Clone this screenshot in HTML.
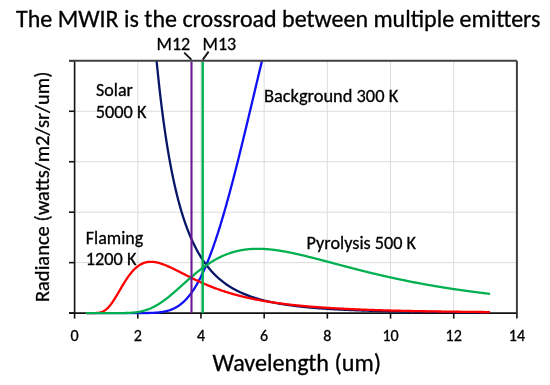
<!DOCTYPE html>
<html><head><meta charset="utf-8"><style>
html,body{margin:0;padding:0;background:#fff;}
svg{display:block;font-family:"Carlito", "Liberation Sans", sans-serif;}
</style></head><body>
<svg width="550" height="385" viewBox="0 0 550 385">
<rect width="550" height="385" fill="#fff"/>
<defs><clipPath id="pa"><rect x="74.6" y="60.8" width="442.30" height="253.90"/></clipPath></defs>
<g stroke="#dcdcdc" stroke-width="1"><line x1="137.79" y1="60.8" x2="137.79" y2="313.1"/><line x1="200.97" y1="60.8" x2="200.97" y2="313.1"/><line x1="264.16" y1="60.8" x2="264.16" y2="313.1"/><line x1="327.34" y1="60.8" x2="327.34" y2="313.1"/><line x1="390.53" y1="60.8" x2="390.53" y2="313.1"/><line x1="453.71" y1="60.8" x2="453.71" y2="313.1"/><line x1="74.6" y1="262.64" x2="516.9" y2="262.64"/><line x1="74.6" y1="212.18" x2="516.9" y2="212.18"/><line x1="74.6" y1="161.72" x2="516.9" y2="161.72"/><line x1="74.6" y1="111.26" x2="516.9" y2="111.26"/></g>
<g stroke="#111" stroke-width="1.6">
<line x1="74.6" y1="60.8" x2="74.6" y2="313.1"/>
<line x1="69" y1="313.1" x2="516.9" y2="313.1"/>
<line x1="69" y1="313.10" x2="74.6" y2="313.10"/><line x1="69" y1="262.64" x2="74.6" y2="262.64"/><line x1="69" y1="212.18" x2="74.6" y2="212.18"/><line x1="69" y1="161.72" x2="74.6" y2="161.72"/><line x1="69" y1="111.26" x2="74.6" y2="111.26"/><line x1="69" y1="60.80" x2="74.6" y2="60.80"/><line x1="74.60" y1="313.1" x2="74.60" y2="318.6"/><line x1="137.79" y1="313.1" x2="137.79" y2="318.6"/><line x1="200.97" y1="313.1" x2="200.97" y2="318.6"/><line x1="264.16" y1="313.1" x2="264.16" y2="318.6"/><line x1="327.34" y1="313.1" x2="327.34" y2="318.6"/><line x1="390.53" y1="313.1" x2="390.53" y2="318.6"/><line x1="453.71" y1="313.1" x2="453.71" y2="318.6"/><line x1="516.90" y1="313.1" x2="516.90" y2="318.6"/>
</g>
<g fill="none" stroke-width="2.3" stroke-linejoin="round" stroke-linecap="round" clip-path="url(#pa)">
<path d="M86.61,313.10 L87.24,313.10 L87.87,313.10 L88.50,313.10 L89.13,313.10 L89.76,313.10 L90.40,313.10 L91.03,313.10 L91.66,313.10 L92.29,313.10 L92.92,313.10 L93.56,313.10 L94.19,313.10 L94.82,313.10 L95.45,313.10 L96.08,313.10 L96.72,313.10 L97.35,313.10 L97.98,313.10 L98.61,313.10 L99.24,313.10 L99.87,313.10 L100.51,313.10 L101.14,313.10 L101.77,313.10 L102.40,313.10 L103.03,313.10 L103.67,313.10 L104.30,313.10 L104.93,313.10 L105.56,313.10 L106.19,313.10 L106.82,313.10 L107.46,313.10 L108.09,313.10 L108.72,313.10 L109.35,313.10 L109.98,313.10 L110.62,313.10 L111.25,313.10 L111.88,313.10 L112.51,313.10 L113.14,313.10 L113.78,313.10 L114.41,313.10 L115.04,313.10 L115.67,313.10 L116.30,313.10 L116.93,313.10 L117.57,313.10 L118.20,313.10 L118.83,313.10 L119.46,313.10 L120.09,313.10 L120.73,313.10 L121.36,313.10 L121.99,313.10 L122.62,313.10 L123.25,313.10 L123.88,313.10 L124.52,313.10 L125.15,313.10 L125.78,313.10 L126.41,313.10 L127.04,313.10 L127.68,313.10 L128.31,313.10 L128.94,313.10 L129.57,313.10 L130.20,313.10 L130.84,313.10 L131.47,313.10 L132.10,313.10 L132.73,313.10 L133.36,313.10 L133.99,313.10 L134.63,313.10 L135.26,313.10 L135.89,313.10 L136.52,313.10 L137.15,313.09 L137.79,313.09 L138.42,313.09 L139.05,313.09 L139.68,313.09 L140.31,313.09 L140.95,313.08 L141.58,313.08 L142.21,313.08 L142.84,313.07 L143.47,313.07 L144.10,313.06 L144.74,313.05 L145.37,313.05 L146.00,313.04 L146.63,313.03 L147.26,313.02 L147.90,313.01 L148.53,312.99 L149.16,312.98 L149.79,312.96 L150.42,312.94 L151.05,312.92 L151.69,312.90 L152.32,312.87 L152.95,312.84 L153.58,312.81 L154.21,312.78 L154.85,312.74 L155.48,312.70 L156.11,312.66 L156.74,312.61 L157.37,312.55 L158.01,312.50 L158.64,312.43 L159.27,312.36 L159.90,312.29 L160.53,312.21 L161.16,312.13 L161.80,312.03 L162.43,311.93 L163.06,311.83 L163.69,311.71 L164.32,311.59 L164.96,311.46 L165.59,311.32 L166.22,311.17 L166.85,311.02 L167.48,310.85 L168.11,310.67 L168.75,310.48 L169.38,310.28 L170.01,310.07 L170.64,309.84 L171.27,309.60 L171.91,309.35 L172.54,309.09 L173.17,308.81 L173.80,308.52 L174.43,308.21 L175.07,307.89 L175.70,307.55 L176.33,307.19 L176.96,306.82 L177.59,306.43 L178.22,306.03 L178.86,305.60 L179.49,305.16 L180.12,304.70 L180.75,304.22 L181.38,303.72 L182.02,303.20 L182.65,302.66 L183.28,302.10 L183.91,301.52 L184.54,300.91 L185.18,300.29 L185.81,299.64 L186.44,298.97 L187.07,298.27 L187.70,297.55 L188.33,296.81 L188.97,296.05 L189.60,295.26 L190.23,294.45 L190.86,293.61 L191.49,292.74 L192.13,291.85 L192.76,290.94 L193.39,290.00 L194.02,289.03 L194.65,288.04 L195.28,287.02 L195.92,285.98 L196.55,284.91 L197.18,283.81 L197.81,282.69 L198.44,281.53 L199.08,280.36 L199.71,279.15 L200.34,277.92 L200.97,276.66 L201.60,275.37 L202.24,274.05 L202.87,272.71 L203.50,271.34 L204.13,269.95 L204.76,268.52 L205.39,267.07 L206.03,265.60 L206.66,264.09 L207.29,262.56 L207.92,261.00 L208.55,259.42 L209.19,257.81 L209.82,256.17 L210.45,254.50 L211.08,252.81 L211.71,251.10 L212.34,249.36 L212.98,247.59 L213.61,245.80 L214.24,243.98 L214.87,242.14 L215.50,240.27 L216.14,238.38 L216.77,236.46 L217.40,234.52 L218.03,232.56 L218.66,230.58 L219.30,228.57 L219.93,226.54 L220.56,224.48 L221.19,222.41 L221.82,220.31 L222.45,218.19 L223.09,216.05 L223.72,213.89 L224.35,211.71 L224.98,209.51 L225.61,207.30 L226.25,205.06 L226.88,202.80 L227.51,200.53 L228.14,198.23 L228.77,195.92 L229.41,193.60 L230.04,191.25 L230.67,188.89 L231.30,186.52 L231.93,184.12 L232.56,181.72 L233.20,179.30 L233.83,176.86 L234.46,174.41 L235.09,171.95 L235.72,169.48 L236.36,166.99 L236.99,164.49 L237.62,161.98 L238.25,159.46 L238.88,156.93 L239.51,154.39 L240.15,151.83 L240.78,149.27 L241.41,146.70 L242.04,144.12 L242.67,141.54 L243.31,138.94 L243.94,136.34 L244.57,133.74 L245.20,131.12 L245.83,128.50 L246.47,125.88 L247.10,123.25 L247.73,120.61 L248.36,117.97 L248.99,115.33 L249.62,112.69 L250.26,110.04 L250.89,107.39 L251.52,104.73 L252.15,102.08 L252.78,99.42 L253.42,96.77 L254.05,94.11 L254.68,91.45 L255.31,88.80 L255.94,86.14 L256.57,83.49 L257.21,80.83 L257.84,78.18 L258.47,75.54 L259.10,72.89 L259.73,70.25 L260.37,67.61 L261.00,64.97 L261.63,62.34 L262.26,59.71 L262.89,57.09 L263.53,54.47 L264.16,51.86 L264.79,49.26 L265.42,46.66 L266.05,44.06 L266.68,41.48 L267.32,40.80 L267.95,40.80 L268.58,40.80 L269.21,40.80 L269.84,40.80 L270.48,40.80 L271.11,40.80 L271.74,40.80 L272.37,40.80 L273.00,40.80 L273.64,40.80 L274.27,40.80 L274.90,40.80 L275.53,40.80 L276.16,40.80 L276.79,40.80 L277.43,40.80 L278.06,40.80 L278.69,40.80 L279.32,40.80 L279.95,40.80 L280.59,40.80 L281.22,40.80 L281.85,40.80 L282.48,40.80 L283.11,40.80 L283.74,40.80 L284.38,40.80 L285.01,40.80 L285.64,40.80 L286.27,40.80 L286.90,40.80 L287.54,40.80 L288.17,40.80 L288.80,40.80 L289.43,40.80 L290.06,40.80 L290.70,40.80 L291.33,40.80 L291.96,40.80 L292.59,40.80 L293.22,40.80 L293.85,40.80 L294.49,40.80 L295.12,40.80 L295.75,40.80 L296.38,40.80 L297.01,40.80 L297.65,40.80 L298.28,40.80 L298.91,40.80 L299.54,40.80 L300.17,40.80 L300.80,40.80 L301.44,40.80 L302.07,40.80 L302.70,40.80 L303.33,40.80 L303.96,40.80 L304.60,40.80 L305.23,40.80 L305.86,40.80 L306.49,40.80 L307.12,40.80 L307.76,40.80 L308.39,40.80 L309.02,40.80 L309.65,40.80 L310.28,40.80 L310.91,40.80 L311.55,40.80 L312.18,40.80 L312.81,40.80 L313.44,40.80 L314.07,40.80 L314.71,40.80 L315.34,40.80 L315.97,40.80 L316.60,40.80 L317.23,40.80 L317.87,40.80 L318.50,40.80 L319.13,40.80 L319.76,40.80 L320.39,40.80 L321.02,40.80 L321.66,40.80 L322.29,40.80 L322.92,40.80 L323.55,40.80 L324.18,40.80 L324.82,40.80 L325.45,40.80 L326.08,40.80 L326.71,40.80 L327.34,40.80 L327.97,40.80 L328.61,40.80 L329.24,40.80 L329.87,40.80 L330.50,40.80 L331.13,40.80 L331.77,40.80 L332.40,40.80 L333.03,40.80 L333.66,40.80 L334.29,40.80 L334.93,40.80 L335.56,40.80 L336.19,40.80 L336.82,40.80 L337.45,40.80 L338.08,40.80 L338.72,40.80 L339.35,40.80 L339.98,40.80 L340.61,40.80 L341.24,40.80 L341.88,40.80 L342.51,40.80 L343.14,40.80 L343.77,40.80 L344.40,40.80 L345.03,40.80 L345.67,40.80 L346.30,40.80 L346.93,40.80 L347.56,40.80 L348.19,40.80 L348.83,40.80 L349.46,40.80 L350.09,40.80 L350.72,40.80 L351.35,40.80 L351.99,40.80 L352.62,40.80 L353.25,40.80 L353.88,40.80 L354.51,40.80 L355.14,40.80 L355.78,40.80 L356.41,40.80 L357.04,40.80 L357.67,40.80 L358.30,40.80 L358.94,40.80 L359.57,40.80 L360.20,40.80 L360.83,40.80 L361.46,40.80 L362.10,40.80 L362.73,40.80 L363.36,40.80 L363.99,40.80 L364.62,40.80 L365.25,40.80 L365.89,40.80 L366.52,40.80 L367.15,40.80 L367.78,40.80 L368.41,40.80 L369.05,40.80 L369.68,40.80 L370.31,40.80 L370.94,40.80 L371.57,40.80 L372.20,40.80 L372.84,40.80 L373.47,40.80 L374.10,40.80 L374.73,40.80 L375.36,40.80 L376.00,40.80 L376.63,40.80 L377.26,40.80 L377.89,40.80 L378.52,40.80 L379.16,40.80 L379.79,40.80 L380.42,40.80 L381.05,40.80 L381.68,40.80 L382.31,40.80 L382.95,40.80 L383.58,40.80 L384.21,40.80 L384.84,40.80 L385.47,40.80 L386.11,40.80 L386.74,40.80 L387.37,40.80 L388.00,40.80 L388.63,40.80 L389.26,40.80 L389.90,40.80 L390.53,40.80 L391.16,40.80 L391.79,40.80 L392.42,40.80 L393.06,40.80 L393.69,40.80 L394.32,40.80 L394.95,40.80 L395.58,40.80 L396.22,40.80 L396.85,40.80 L397.48,40.80 L398.11,40.80 L398.74,40.80 L399.37,40.80 L400.01,40.80 L400.64,40.80 L401.27,40.80 L401.90,40.80 L402.53,40.80 L403.17,40.80 L403.80,40.80 L404.43,40.80 L405.06,40.80 L405.69,40.80 L406.33,40.80 L406.96,40.80 L407.59,40.80 L408.22,40.80 L408.85,40.80 L409.48,40.80 L410.12,40.80 L410.75,40.80 L411.38,40.80 L412.01,40.80 L412.64,40.80 L413.28,40.80 L413.91,40.80 L414.54,40.80 L415.17,40.80 L415.80,40.80 L416.43,40.80 L417.07,40.80 L417.70,40.80 L418.33,40.80 L418.96,40.80 L419.59,40.80 L420.23,40.80 L420.86,40.80 L421.49,40.80 L422.12,40.80 L422.75,40.80 L423.39,40.80 L424.02,40.80 L424.65,40.80 L425.28,40.80 L425.91,40.80 L426.54,40.80 L427.18,40.80 L427.81,40.80 L428.44,40.80 L429.07,40.80 L429.70,40.80 L430.34,40.80 L430.97,40.80 L431.60,40.80 L432.23,40.80 L432.86,40.80 L433.49,40.80 L434.13,40.80 L434.76,40.80 L435.39,40.80 L436.02,40.80 L436.65,40.80 L437.29,40.80 L437.92,40.80 L438.55,40.80 L439.18,40.80 L439.81,40.80 L440.45,40.80 L441.08,40.80 L441.71,40.80 L442.34,40.80 L442.97,40.80 L443.60,40.80 L444.24,40.80 L444.87,40.80 L445.50,40.80 L446.13,40.80 L446.76,40.80 L447.40,40.80 L448.03,40.80 L448.66,40.80 L449.29,40.80 L449.92,40.80 L450.56,40.80 L451.19,40.80 L451.82,40.80 L452.45,40.80 L453.08,40.80 L453.71,40.80 L454.35,40.80 L454.98,40.80 L455.61,40.80 L456.24,40.80 L456.87,40.80 L457.51,40.80 L458.14,40.80 L458.77,40.80 L459.40,40.80 L460.03,40.80 L460.66,40.80 L461.30,40.80 L461.93,40.80 L462.56,40.80 L463.19,40.80 L463.82,40.80 L464.46,40.80 L465.09,40.80 L465.72,40.80 L466.35,40.80 L466.98,40.80 L467.62,40.80 L468.25,40.80 L468.88,40.80 L469.51,40.80 L470.14,40.80 L470.77,40.80 L471.41,40.80 L472.04,40.80 L472.67,40.80 L473.30,40.80 L473.93,40.80 L474.57,40.80 L475.20,40.80 L475.83,40.80 L476.46,40.80 L477.09,40.80 L477.72,40.80 L478.36,40.80 L478.99,40.80 L479.62,40.80 L480.25,40.80 L480.88,40.80 L481.52,40.80 L482.15,40.80 L482.78,40.80 L483.41,40.80 L484.04,40.80 L484.68,40.80 L485.31,40.80 L485.94,40.80 L486.57,40.80 L487.20,40.80 L487.83,40.80 L488.47,40.80 L489.10,40.80" stroke="#1010f4"/>
<path d="M86.61,40.80 L87.24,40.80 L87.87,40.80 L88.50,40.80 L89.13,40.80 L89.76,40.80 L90.40,40.80 L91.03,40.80 L91.66,40.80 L92.29,40.80 L92.92,40.80 L93.56,40.80 L94.19,40.80 L94.82,40.80 L95.45,40.80 L96.08,40.80 L96.72,40.80 L97.35,40.80 L97.98,40.80 L98.61,40.80 L99.24,40.80 L99.87,40.80 L100.51,40.80 L101.14,40.80 L101.77,40.80 L102.40,40.80 L103.03,40.80 L103.67,40.80 L104.30,40.80 L104.93,40.80 L105.56,40.80 L106.19,40.80 L106.82,40.80 L107.46,40.80 L108.09,40.80 L108.72,40.80 L109.35,40.80 L109.98,40.80 L110.62,40.80 L111.25,40.80 L111.88,40.80 L112.51,40.80 L113.14,40.80 L113.78,40.80 L114.41,40.80 L115.04,40.80 L115.67,40.80 L116.30,40.80 L116.93,40.80 L117.57,40.80 L118.20,40.80 L118.83,40.80 L119.46,40.80 L120.09,40.80 L120.73,40.80 L121.36,40.80 L121.99,40.80 L122.62,40.80 L123.25,40.80 L123.88,40.80 L124.52,40.80 L125.15,40.80 L125.78,40.80 L126.41,40.80 L127.04,40.80 L127.68,40.80 L128.31,40.80 L128.94,40.80 L129.57,40.80 L130.20,40.80 L130.84,40.80 L131.47,40.80 L132.10,40.80 L132.73,40.80 L133.36,40.80 L133.99,40.80 L134.63,40.80 L135.26,40.80 L135.89,40.80 L136.52,40.80 L137.15,40.80 L137.79,40.80 L138.42,40.80 L139.05,40.80 L139.68,40.80 L140.31,40.80 L140.95,40.80 L141.58,40.80 L142.21,40.80 L142.84,40.80 L143.47,40.80 L144.10,40.80 L144.74,40.80 L145.37,40.80 L146.00,40.80 L146.63,40.80 L147.26,40.80 L147.90,40.80 L148.53,40.80 L149.16,40.80 L149.79,40.80 L150.42,40.80 L151.05,40.80 L151.69,40.80 L152.32,40.80 L152.95,40.80 L153.58,40.80 L154.21,40.80 L154.85,41.92 L155.48,48.92 L156.11,55.69 L156.74,62.25 L157.37,68.61 L158.01,74.77 L158.64,80.74 L159.27,86.52 L159.90,92.13 L160.53,97.57 L161.16,102.84 L161.80,107.96 L162.43,112.92 L163.06,117.74 L163.69,122.41 L164.32,126.95 L164.96,131.35 L165.59,135.63 L166.22,139.78 L166.85,143.81 L167.48,147.73 L168.11,151.54 L168.75,155.23 L169.38,158.83 L170.01,162.32 L170.64,165.72 L171.27,169.02 L171.91,172.23 L172.54,175.35 L173.17,178.39 L173.80,181.34 L174.43,184.22 L175.07,187.02 L175.70,189.74 L176.33,192.39 L176.96,194.97 L177.59,197.48 L178.22,199.93 L178.86,202.31 L179.49,204.63 L180.12,206.89 L180.75,209.09 L181.38,211.24 L182.02,213.33 L182.65,215.37 L183.28,217.36 L183.91,219.29 L184.54,221.18 L185.18,223.02 L185.81,224.82 L186.44,226.57 L187.07,228.28 L187.70,229.95 L188.33,231.57 L188.97,233.16 L189.60,234.71 L190.23,236.22 L190.86,237.70 L191.49,239.14 L192.13,240.55 L192.76,241.92 L193.39,243.26 L194.02,244.57 L194.65,245.85 L195.28,247.10 L195.92,248.32 L196.55,249.52 L197.18,250.68 L197.81,251.82 L198.44,252.94 L199.08,254.03 L199.71,255.09 L200.34,256.13 L200.97,257.15 L201.60,258.15 L202.24,259.12 L202.87,260.07 L203.50,261.00 L204.13,261.91 L204.76,262.80 L205.39,263.68 L206.03,264.53 L206.66,265.36 L207.29,266.18 L207.92,266.98 L208.55,267.76 L209.19,268.53 L209.82,269.28 L210.45,270.02 L211.08,270.74 L211.71,271.44 L212.34,272.13 L212.98,272.81 L213.61,273.47 L214.24,274.12 L214.87,274.75 L215.50,275.37 L216.14,275.98 L216.77,276.58 L217.40,277.17 L218.03,277.74 L218.66,278.31 L219.30,278.86 L219.93,279.40 L220.56,279.93 L221.19,280.45 L221.82,280.96 L222.45,281.46 L223.09,281.95 L223.72,282.43 L224.35,282.90 L224.98,283.36 L225.61,283.82 L226.25,284.26 L226.88,284.70 L227.51,285.13 L228.14,285.55 L228.77,285.96 L229.41,286.37 L230.04,286.76 L230.67,287.15 L231.30,287.54 L231.93,287.91 L232.56,288.28 L233.20,288.65 L233.83,289.00 L234.46,289.35 L235.09,289.69 L235.72,290.03 L236.36,290.36 L236.99,290.69 L237.62,291.01 L238.25,291.32 L238.88,291.63 L239.51,291.93 L240.15,292.23 L240.78,292.52 L241.41,292.81 L242.04,293.09 L242.67,293.37 L243.31,293.64 L243.94,293.91 L244.57,294.17 L245.20,294.43 L245.83,294.68 L246.47,294.93 L247.10,295.18 L247.73,295.42 L248.36,295.66 L248.99,295.89 L249.62,296.12 L250.26,296.35 L250.89,296.57 L251.52,296.79 L252.15,297.00 L252.78,297.22 L253.42,297.42 L254.05,297.63 L254.68,297.83 L255.31,298.03 L255.94,298.22 L256.57,298.41 L257.21,298.60 L257.84,298.79 L258.47,298.97 L259.10,299.15 L259.73,299.33 L260.37,299.50 L261.00,299.67 L261.63,299.84 L262.26,300.01 L262.89,300.17 L263.53,300.33 L264.16,300.49 L264.79,300.65 L265.42,300.80 L266.05,300.95 L266.68,301.10 L267.32,301.25 L267.95,301.39 L268.58,301.53 L269.21,301.67 L269.84,301.81 L270.48,301.95 L271.11,302.08 L271.74,302.21 L272.37,302.34 L273.00,302.47 L273.64,302.60 L274.27,302.72 L274.90,302.84 L275.53,302.97 L276.16,303.08 L276.79,303.20 L277.43,303.32 L278.06,303.43 L278.69,303.54 L279.32,303.65 L279.95,303.76 L280.59,303.87 L281.22,303.98 L281.85,304.08 L282.48,304.18 L283.11,304.28 L283.74,304.38 L284.38,304.48 L285.01,304.58 L285.64,304.67 L286.27,304.77 L286.90,304.86 L287.54,304.95 L288.17,305.04 L288.80,305.13 L289.43,305.22 L290.06,305.31 L290.70,305.39 L291.33,305.48 L291.96,305.56 L292.59,305.64 L293.22,305.73 L293.85,305.81 L294.49,305.88 L295.12,305.96 L295.75,306.04 L296.38,306.11 L297.01,306.19 L297.65,306.26 L298.28,306.34 L298.91,306.41 L299.54,306.48 L300.17,306.55 L300.80,306.62 L301.44,306.69 L302.07,306.75 L302.70,306.82 L303.33,306.88 L303.96,306.95 L304.60,307.01 L305.23,307.08 L305.86,307.14 L306.49,307.20 L307.12,307.26 L307.76,307.32 L308.39,307.38 L309.02,307.44 L309.65,307.49 L310.28,307.55 L310.91,307.61 L311.55,307.66 L312.18,307.72 L312.81,307.77 L313.44,307.82 L314.07,307.88 L314.71,307.93 L315.34,307.98 L315.97,308.03 L316.60,308.08 L317.23,308.13 L317.87,308.18 L318.50,308.23 L319.13,308.28 L319.76,308.32 L320.39,308.37 L321.02,308.42 L321.66,308.46 L322.29,308.51 L322.92,308.55 L323.55,308.59 L324.18,308.64 L324.82,308.68 L325.45,308.72 L326.08,308.76 L326.71,308.81 L327.34,308.85 L327.97,308.89 L328.61,308.93 L329.24,308.97 L329.87,309.00 L330.50,309.04 L331.13,309.08 L331.77,309.12 L332.40,309.16 L333.03,309.19 L333.66,309.23 L334.29,309.26 L334.93,309.30 L335.56,309.33 L336.19,309.37 L336.82,309.40 L337.45,309.44 L338.08,309.47 L338.72,309.50 L339.35,309.54 L339.98,309.57 L340.61,309.60 L341.24,309.63 L341.88,309.66 L342.51,309.69 L343.14,309.72 L343.77,309.75 L344.40,309.78 L345.03,309.81 L345.67,309.84 L346.30,309.87 L346.93,309.90 L347.56,309.93 L348.19,309.96 L348.83,309.98 L349.46,310.01 L350.09,310.04 L350.72,310.07 L351.35,310.09 L351.99,310.12 L352.62,310.14 L353.25,310.17 L353.88,310.19 L354.51,310.22 L355.14,310.24 L355.78,310.27 L356.41,310.29 L357.04,310.32 L357.67,310.34 L358.30,310.36 L358.94,310.39 L359.57,310.41 L360.20,310.43 L360.83,310.46 L361.46,310.48 L362.10,310.50 L362.73,310.52 L363.36,310.54 L363.99,310.56 L364.62,310.59 L365.25,310.61 L365.89,310.63 L366.52,310.65 L367.15,310.67 L367.78,310.69 L368.41,310.71 L369.05,310.73 L369.68,310.75 L370.31,310.77 L370.94,310.79 L371.57,310.80 L372.20,310.82 L372.84,310.84 L373.47,310.86 L374.10,310.88 L374.73,310.90 L375.36,310.91 L376.00,310.93 L376.63,310.95 L377.26,310.97 L377.89,310.98 L378.52,311.00 L379.16,311.02 L379.79,311.03 L380.42,311.05 L381.05,311.07 L381.68,311.08 L382.31,311.10 L382.95,311.11 L383.58,311.13 L384.21,311.14 L384.84,311.16 L385.47,311.17 L386.11,311.19 L386.74,311.20 L387.37,311.22 L388.00,311.23 L388.63,311.25 L389.26,311.26 L389.90,311.28 L390.53,311.29 L391.16,311.30 L391.79,311.32 L392.42,311.33 L393.06,311.35 L393.69,311.36 L394.32,311.37 L394.95,311.38 L395.58,311.40 L396.22,311.41 L396.85,311.42 L397.48,311.44 L398.11,311.45 L398.74,311.46 L399.37,311.47 L400.01,311.49 L400.64,311.50 L401.27,311.51 L401.90,311.52 L402.53,311.53 L403.17,311.54 L403.80,311.56 L404.43,311.57 L405.06,311.58 L405.69,311.59 L406.33,311.60 L406.96,311.61 L407.59,311.62 L408.22,311.63 L408.85,311.64 L409.48,311.65 L410.12,311.66 L410.75,311.68 L411.38,311.69 L412.01,311.70 L412.64,311.71 L413.28,311.72 L413.91,311.73 L414.54,311.74 L415.17,311.75 L415.80,311.75 L416.43,311.76 L417.07,311.77 L417.70,311.78 L418.33,311.79 L418.96,311.80 L419.59,311.81 L420.23,311.82 L420.86,311.83 L421.49,311.84 L422.12,311.85 L422.75,311.86 L423.39,311.86 L424.02,311.87 L424.65,311.88 L425.28,311.89 L425.91,311.90 L426.54,311.91 L427.18,311.91 L427.81,311.92 L428.44,311.93 L429.07,311.94 L429.70,311.95 L430.34,311.96 L430.97,311.96 L431.60,311.97 L432.23,311.98 L432.86,311.99 L433.49,311.99 L434.13,312.00 L434.76,312.01 L435.39,312.02 L436.02,312.02 L436.65,312.03 L437.29,312.04 L437.92,312.04 L438.55,312.05 L439.18,312.06 L439.81,312.07 L440.45,312.07 L441.08,312.08 L441.71,312.09 L442.34,312.09 L442.97,312.10 L443.60,312.11 L444.24,312.11 L444.87,312.12 L445.50,312.13 L446.13,312.13 L446.76,312.14 L447.40,312.14 L448.03,312.15 L448.66,312.16 L449.29,312.16 L449.92,312.17 L450.56,312.18 L451.19,312.18 L451.82,312.19 L452.45,312.19 L453.08,312.20 L453.71,312.21 L454.35,312.21 L454.98,312.22 L455.61,312.22 L456.24,312.23 L456.87,312.23 L457.51,312.24 L458.14,312.24 L458.77,312.25 L459.40,312.26 L460.03,312.26 L460.66,312.27 L461.30,312.27 L461.93,312.28 L462.56,312.28 L463.19,312.29 L463.82,312.29 L464.46,312.30 L465.09,312.30 L465.72,312.31 L466.35,312.31 L466.98,312.32 L467.62,312.32 L468.25,312.33 L468.88,312.33 L469.51,312.34 L470.14,312.34 L470.77,312.35 L471.41,312.35 L472.04,312.35 L472.67,312.36 L473.30,312.36 L473.93,312.37 L474.57,312.37 L475.20,312.38 L475.83,312.38 L476.46,312.39 L477.09,312.39 L477.72,312.39 L478.36,312.40 L478.99,312.40 L479.62,312.41 L480.25,312.41 L480.88,312.42 L481.52,312.42 L482.15,312.42 L482.78,312.43 L483.41,312.43 L484.04,312.44 L484.68,312.44 L485.31,312.44 L485.94,312.45 L486.57,312.45 L487.20,312.46 L487.83,312.46 L488.47,312.46 L489.10,312.47" stroke="#081668"/>
<path d="M86.61,313.10 L87.24,313.10 L87.87,313.10 L88.50,313.10 L89.13,313.10 L89.76,313.10 L90.40,313.10 L91.03,313.10 L91.66,313.10 L92.29,313.09 L92.92,313.09 L93.56,313.08 L94.19,313.07 L94.82,313.06 L95.45,313.04 L96.08,313.01 L96.72,312.97 L97.35,312.92 L97.98,312.85 L98.61,312.77 L99.24,312.66 L99.87,312.53 L100.51,312.38 L101.14,312.19 L101.77,311.98 L102.40,311.73 L103.03,311.44 L103.67,311.11 L104.30,310.74 L104.93,310.33 L105.56,309.88 L106.19,309.38 L106.82,308.84 L107.46,308.25 L108.09,307.62 L108.72,306.94 L109.35,306.23 L109.98,305.47 L110.62,304.67 L111.25,303.84 L111.88,302.97 L112.51,302.07 L113.14,301.14 L113.78,300.18 L114.41,299.19 L115.04,298.18 L115.67,297.15 L116.30,296.11 L116.93,295.05 L117.57,293.98 L118.20,292.91 L118.83,291.83 L119.46,290.74 L120.09,289.66 L120.73,288.57 L121.36,287.50 L121.99,286.43 L122.62,285.37 L123.25,284.32 L123.88,283.28 L124.52,282.26 L125.15,281.26 L125.78,280.27 L126.41,279.31 L127.04,278.37 L127.68,277.44 L128.31,276.55 L128.94,275.67 L129.57,274.83 L130.20,274.00 L130.84,273.21 L131.47,272.44 L132.10,271.70 L132.73,270.99 L133.36,270.30 L133.99,269.65 L134.63,269.02 L135.26,268.42 L135.89,267.85 L136.52,267.31 L137.15,266.79 L137.79,266.31 L138.42,265.85 L139.05,265.42 L139.68,265.01 L140.31,264.63 L140.95,264.28 L141.58,263.96 L142.21,263.66 L142.84,263.38 L143.47,263.13 L144.10,262.90 L144.74,262.70 L145.37,262.51 L146.00,262.35 L146.63,262.22 L147.26,262.10 L147.90,262.00 L148.53,261.92 L149.16,261.87 L149.79,261.83 L150.42,261.80 L151.05,261.80 L151.69,261.81 L152.32,261.84 L152.95,261.89 L153.58,261.95 L154.21,262.02 L154.85,262.11 L155.48,262.21 L156.11,262.33 L156.74,262.45 L157.37,262.59 L158.01,262.74 L158.64,262.90 L159.27,263.08 L159.90,263.26 L160.53,263.45 L161.16,263.65 L161.80,263.86 L162.43,264.08 L163.06,264.30 L163.69,264.54 L164.32,264.78 L164.96,265.02 L165.59,265.28 L166.22,265.54 L166.85,265.80 L167.48,266.07 L168.11,266.34 L168.75,266.62 L169.38,266.91 L170.01,267.20 L170.64,267.49 L171.27,267.78 L171.91,268.08 L172.54,268.38 L173.17,268.69 L173.80,268.99 L174.43,269.30 L175.07,269.61 L175.70,269.93 L176.33,270.24 L176.96,270.56 L177.59,270.87 L178.22,271.19 L178.86,271.51 L179.49,271.83 L180.12,272.15 L180.75,272.47 L181.38,272.79 L182.02,273.12 L182.65,273.44 L183.28,273.76 L183.91,274.08 L184.54,274.40 L185.18,274.72 L185.81,275.04 L186.44,275.36 L187.07,275.68 L187.70,275.99 L188.33,276.31 L188.97,276.63 L189.60,276.94 L190.23,277.25 L190.86,277.57 L191.49,277.88 L192.13,278.19 L192.76,278.49 L193.39,278.80 L194.02,279.10 L194.65,279.41 L195.28,279.71 L195.92,280.01 L196.55,280.31 L197.18,280.60 L197.81,280.90 L198.44,281.19 L199.08,281.48 L199.71,281.77 L200.34,282.06 L200.97,282.34 L201.60,282.62 L202.24,282.90 L202.87,283.18 L203.50,283.46 L204.13,283.73 L204.76,284.01 L205.39,284.28 L206.03,284.54 L206.66,284.81 L207.29,285.08 L207.92,285.34 L208.55,285.60 L209.19,285.85 L209.82,286.11 L210.45,286.36 L211.08,286.61 L211.71,286.86 L212.34,287.11 L212.98,287.36 L213.61,287.60 L214.24,287.84 L214.87,288.08 L215.50,288.31 L216.14,288.55 L216.77,288.78 L217.40,289.01 L218.03,289.24 L218.66,289.46 L219.30,289.69 L219.93,289.91 L220.56,290.13 L221.19,290.34 L221.82,290.56 L222.45,290.77 L223.09,290.98 L223.72,291.19 L224.35,291.40 L224.98,291.61 L225.61,291.81 L226.25,292.01 L226.88,292.21 L227.51,292.41 L228.14,292.60 L228.77,292.79 L229.41,292.99 L230.04,293.18 L230.67,293.36 L231.30,293.55 L231.93,293.73 L232.56,293.92 L233.20,294.10 L233.83,294.27 L234.46,294.45 L235.09,294.63 L235.72,294.80 L236.36,294.97 L236.99,295.14 L237.62,295.31 L238.25,295.48 L238.88,295.64 L239.51,295.80 L240.15,295.96 L240.78,296.12 L241.41,296.28 L242.04,296.44 L242.67,296.59 L243.31,296.75 L243.94,296.90 L244.57,297.05 L245.20,297.20 L245.83,297.34 L246.47,297.49 L247.10,297.63 L247.73,297.78 L248.36,297.92 L248.99,298.06 L249.62,298.19 L250.26,298.33 L250.89,298.47 L251.52,298.60 L252.15,298.73 L252.78,298.86 L253.42,298.99 L254.05,299.12 L254.68,299.25 L255.31,299.38 L255.94,299.50 L256.57,299.62 L257.21,299.75 L257.84,299.87 L258.47,299.99 L259.10,300.10 L259.73,300.22 L260.37,300.34 L261.00,300.45 L261.63,300.57 L262.26,300.68 L262.89,300.79 L263.53,300.90 L264.16,301.01 L264.79,301.12 L265.42,301.22 L266.05,301.33 L266.68,301.43 L267.32,301.54 L267.95,301.64 L268.58,301.74 L269.21,301.84 L269.84,301.94 L270.48,302.04 L271.11,302.13 L271.74,302.23 L272.37,302.33 L273.00,302.42 L273.64,302.51 L274.27,302.61 L274.90,302.70 L275.53,302.79 L276.16,302.88 L276.79,302.97 L277.43,303.05 L278.06,303.14 L278.69,303.23 L279.32,303.31 L279.95,303.40 L280.59,303.48 L281.22,303.56 L281.85,303.64 L282.48,303.73 L283.11,303.81 L283.74,303.89 L284.38,303.96 L285.01,304.04 L285.64,304.12 L286.27,304.19 L286.90,304.27 L287.54,304.34 L288.17,304.42 L288.80,304.49 L289.43,304.56 L290.06,304.64 L290.70,304.71 L291.33,304.78 L291.96,304.85 L292.59,304.92 L293.22,304.98 L293.85,305.05 L294.49,305.12 L295.12,305.18 L295.75,305.25 L296.38,305.32 L297.01,305.38 L297.65,305.44 L298.28,305.51 L298.91,305.57 L299.54,305.63 L300.17,305.69 L300.80,305.75 L301.44,305.81 L302.07,305.87 L302.70,305.93 L303.33,305.99 L303.96,306.05 L304.60,306.10 L305.23,306.16 L305.86,306.22 L306.49,306.27 L307.12,306.33 L307.76,306.38 L308.39,306.44 L309.02,306.49 L309.65,306.54 L310.28,306.59 L310.91,306.65 L311.55,306.70 L312.18,306.75 L312.81,306.80 L313.44,306.85 L314.07,306.90 L314.71,306.95 L315.34,307.00 L315.97,307.04 L316.60,307.09 L317.23,307.14 L317.87,307.19 L318.50,307.23 L319.13,307.28 L319.76,307.32 L320.39,307.37 L321.02,307.41 L321.66,307.46 L322.29,307.50 L322.92,307.54 L323.55,307.59 L324.18,307.63 L324.82,307.67 L325.45,307.71 L326.08,307.75 L326.71,307.80 L327.34,307.84 L327.97,307.88 L328.61,307.92 L329.24,307.96 L329.87,307.99 L330.50,308.03 L331.13,308.07 L331.77,308.11 L332.40,308.15 L333.03,308.19 L333.66,308.22 L334.29,308.26 L334.93,308.30 L335.56,308.33 L336.19,308.37 L336.82,308.40 L337.45,308.44 L338.08,308.47 L338.72,308.51 L339.35,308.54 L339.98,308.57 L340.61,308.61 L341.24,308.64 L341.88,308.67 L342.51,308.71 L343.14,308.74 L343.77,308.77 L344.40,308.80 L345.03,308.83 L345.67,308.87 L346.30,308.90 L346.93,308.93 L347.56,308.96 L348.19,308.99 L348.83,309.02 L349.46,309.05 L350.09,309.08 L350.72,309.10 L351.35,309.13 L351.99,309.16 L352.62,309.19 L353.25,309.22 L353.88,309.25 L354.51,309.27 L355.14,309.30 L355.78,309.33 L356.41,309.35 L357.04,309.38 L357.67,309.41 L358.30,309.43 L358.94,309.46 L359.57,309.49 L360.20,309.51 L360.83,309.54 L361.46,309.56 L362.10,309.59 L362.73,309.61 L363.36,309.64 L363.99,309.66 L364.62,309.68 L365.25,309.71 L365.89,309.73 L366.52,309.75 L367.15,309.78 L367.78,309.80 L368.41,309.82 L369.05,309.85 L369.68,309.87 L370.31,309.89 L370.94,309.91 L371.57,309.93 L372.20,309.96 L372.84,309.98 L373.47,310.00 L374.10,310.02 L374.73,310.04 L375.36,310.06 L376.00,310.08 L376.63,310.10 L377.26,310.12 L377.89,310.14 L378.52,310.16 L379.16,310.18 L379.79,310.20 L380.42,310.22 L381.05,310.24 L381.68,310.26 L382.31,310.28 L382.95,310.30 L383.58,310.32 L384.21,310.34 L384.84,310.35 L385.47,310.37 L386.11,310.39 L386.74,310.41 L387.37,310.43 L388.00,310.44 L388.63,310.46 L389.26,310.48 L389.90,310.49 L390.53,310.51 L391.16,310.53 L391.79,310.55 L392.42,310.56 L393.06,310.58 L393.69,310.60 L394.32,310.61 L394.95,310.63 L395.58,310.64 L396.22,310.66 L396.85,310.68 L397.48,310.69 L398.11,310.71 L398.74,310.72 L399.37,310.74 L400.01,310.75 L400.64,310.77 L401.27,310.78 L401.90,310.80 L402.53,310.81 L403.17,310.83 L403.80,310.84 L404.43,310.85 L405.06,310.87 L405.69,310.88 L406.33,310.90 L406.96,310.91 L407.59,310.92 L408.22,310.94 L408.85,310.95 L409.48,310.97 L410.12,310.98 L410.75,310.99 L411.38,311.01 L412.01,311.02 L412.64,311.03 L413.28,311.04 L413.91,311.06 L414.54,311.07 L415.17,311.08 L415.80,311.09 L416.43,311.11 L417.07,311.12 L417.70,311.13 L418.33,311.14 L418.96,311.16 L419.59,311.17 L420.23,311.18 L420.86,311.19 L421.49,311.20 L422.12,311.21 L422.75,311.23 L423.39,311.24 L424.02,311.25 L424.65,311.26 L425.28,311.27 L425.91,311.28 L426.54,311.29 L427.18,311.30 L427.81,311.31 L428.44,311.33 L429.07,311.34 L429.70,311.35 L430.34,311.36 L430.97,311.37 L431.60,311.38 L432.23,311.39 L432.86,311.40 L433.49,311.41 L434.13,311.42 L434.76,311.43 L435.39,311.44 L436.02,311.45 L436.65,311.46 L437.29,311.47 L437.92,311.48 L438.55,311.49 L439.18,311.50 L439.81,311.51 L440.45,311.51 L441.08,311.52 L441.71,311.53 L442.34,311.54 L442.97,311.55 L443.60,311.56 L444.24,311.57 L444.87,311.58 L445.50,311.59 L446.13,311.60 L446.76,311.60 L447.40,311.61 L448.03,311.62 L448.66,311.63 L449.29,311.64 L449.92,311.65 L450.56,311.66 L451.19,311.66 L451.82,311.67 L452.45,311.68 L453.08,311.69 L453.71,311.70 L454.35,311.70 L454.98,311.71 L455.61,311.72 L456.24,311.73 L456.87,311.74 L457.51,311.74 L458.14,311.75 L458.77,311.76 L459.40,311.77 L460.03,311.77 L460.66,311.78 L461.30,311.79 L461.93,311.80 L462.56,311.80 L463.19,311.81 L463.82,311.82 L464.46,311.82 L465.09,311.83 L465.72,311.84 L466.35,311.85 L466.98,311.85 L467.62,311.86 L468.25,311.87 L468.88,311.87 L469.51,311.88 L470.14,311.89 L470.77,311.89 L471.41,311.90 L472.04,311.91 L472.67,311.91 L473.30,311.92 L473.93,311.93 L474.57,311.93 L475.20,311.94 L475.83,311.94 L476.46,311.95 L477.09,311.96 L477.72,311.96 L478.36,311.97 L478.99,311.98 L479.62,311.98 L480.25,311.99 L480.88,311.99 L481.52,312.00 L482.15,312.01 L482.78,312.01 L483.41,312.02 L484.04,312.02 L484.68,312.03 L485.31,312.03 L485.94,312.04 L486.57,312.05 L487.20,312.05 L487.83,312.06 L488.47,312.06 L489.10,312.07" stroke="#ff0000"/>
<path d="M86.61,313.10 L87.24,313.10 L87.87,313.10 L88.50,313.10 L89.13,313.10 L89.76,313.10 L90.40,313.10 L91.03,313.10 L91.66,313.10 L92.29,313.10 L92.92,313.10 L93.56,313.10 L94.19,313.10 L94.82,313.10 L95.45,313.10 L96.08,313.10 L96.72,313.10 L97.35,313.10 L97.98,313.10 L98.61,313.10 L99.24,313.10 L99.87,313.10 L100.51,313.10 L101.14,313.10 L101.77,313.10 L102.40,313.10 L103.03,313.10 L103.67,313.10 L104.30,313.10 L104.93,313.10 L105.56,313.10 L106.19,313.10 L106.82,313.10 L107.46,313.10 L108.09,313.10 L108.72,313.10 L109.35,313.10 L109.98,313.10 L110.62,313.10 L111.25,313.10 L111.88,313.10 L112.51,313.10 L113.14,313.10 L113.78,313.10 L114.41,313.10 L115.04,313.10 L115.67,313.10 L116.30,313.09 L116.93,313.09 L117.57,313.09 L118.20,313.09 L118.83,313.09 L119.46,313.08 L120.09,313.08 L120.73,313.08 L121.36,313.07 L121.99,313.06 L122.62,313.06 L123.25,313.05 L123.88,313.04 L124.52,313.03 L125.15,313.01 L125.78,313.00 L126.41,312.98 L127.04,312.96 L127.68,312.94 L128.31,312.91 L128.94,312.88 L129.57,312.85 L130.20,312.82 L130.84,312.78 L131.47,312.74 L132.10,312.69 L132.73,312.64 L133.36,312.59 L133.99,312.53 L134.63,312.46 L135.26,312.39 L135.89,312.31 L136.52,312.23 L137.15,312.14 L137.79,312.05 L138.42,311.94 L139.05,311.83 L139.68,311.72 L140.31,311.59 L140.95,311.46 L141.58,311.32 L142.21,311.17 L142.84,311.02 L143.47,310.85 L144.10,310.68 L144.74,310.49 L145.37,310.30 L146.00,310.10 L146.63,309.89 L147.26,309.67 L147.90,309.45 L148.53,309.21 L149.16,308.96 L149.79,308.70 L150.42,308.44 L151.05,308.16 L151.69,307.87 L152.32,307.58 L152.95,307.27 L153.58,306.96 L154.21,306.63 L154.85,306.30 L155.48,305.95 L156.11,305.60 L156.74,305.24 L157.37,304.87 L158.01,304.49 L158.64,304.10 L159.27,303.70 L159.90,303.29 L160.53,302.88 L161.16,302.45 L161.80,302.02 L162.43,301.58 L163.06,301.13 L163.69,300.68 L164.32,300.22 L164.96,299.75 L165.59,299.27 L166.22,298.79 L166.85,298.30 L167.48,297.81 L168.11,297.31 L168.75,296.80 L169.38,296.29 L170.01,295.77 L170.64,295.25 L171.27,294.72 L171.91,294.19 L172.54,293.65 L173.17,293.11 L173.80,292.57 L174.43,292.02 L175.07,291.47 L175.70,290.92 L176.33,290.37 L176.96,289.81 L177.59,289.25 L178.22,288.69 L178.86,288.13 L179.49,287.56 L180.12,287.00 L180.75,286.43 L181.38,285.87 L182.02,285.30 L182.65,284.73 L183.28,284.17 L183.91,283.60 L184.54,283.04 L185.18,282.47 L185.81,281.91 L186.44,281.35 L187.07,280.78 L187.70,280.22 L188.33,279.67 L188.97,279.11 L189.60,278.56 L190.23,278.01 L190.86,277.46 L191.49,276.91 L192.13,276.37 L192.76,275.83 L193.39,275.30 L194.02,274.76 L194.65,274.24 L195.28,273.71 L195.92,273.19 L196.55,272.67 L197.18,272.16 L197.81,271.65 L198.44,271.15 L199.08,270.65 L199.71,270.15 L200.34,269.66 L200.97,269.18 L201.60,268.69 L202.24,268.22 L202.87,267.75 L203.50,267.28 L204.13,266.82 L204.76,266.37 L205.39,265.92 L206.03,265.48 L206.66,265.04 L207.29,264.61 L207.92,264.18 L208.55,263.76 L209.19,263.35 L209.82,262.94 L210.45,262.53 L211.08,262.14 L211.71,261.75 L212.34,261.36 L212.98,260.98 L213.61,260.61 L214.24,260.24 L214.87,259.88 L215.50,259.53 L216.14,259.18 L216.77,258.84 L217.40,258.50 L218.03,258.17 L218.66,257.85 L219.30,257.53 L219.93,257.22 L220.56,256.92 L221.19,256.62 L221.82,256.32 L222.45,256.04 L223.09,255.76 L223.72,255.48 L224.35,255.22 L224.98,254.95 L225.61,254.70 L226.25,254.45 L226.88,254.20 L227.51,253.97 L228.14,253.73 L228.77,253.51 L229.41,253.29 L230.04,253.07 L230.67,252.87 L231.30,252.66 L231.93,252.47 L232.56,252.28 L233.20,252.09 L233.83,251.91 L234.46,251.74 L235.09,251.57 L235.72,251.41 L236.36,251.25 L236.99,251.10 L237.62,250.95 L238.25,250.81 L238.88,250.67 L239.51,250.54 L240.15,250.42 L240.78,250.29 L241.41,250.18 L242.04,250.07 L242.67,249.96 L243.31,249.86 L243.94,249.77 L244.57,249.68 L245.20,249.59 L245.83,249.51 L246.47,249.43 L247.10,249.36 L247.73,249.29 L248.36,249.23 L248.99,249.17 L249.62,249.12 L250.26,249.07 L250.89,249.03 L251.52,248.99 L252.15,248.95 L252.78,248.92 L253.42,248.89 L254.05,248.86 L254.68,248.84 L255.31,248.83 L255.94,248.81 L256.57,248.81 L257.21,248.80 L257.84,248.80 L258.47,248.80 L259.10,248.81 L259.73,248.82 L260.37,248.83 L261.00,248.85 L261.63,248.87 L262.26,248.89 L262.89,248.92 L263.53,248.95 L264.16,248.98 L264.79,249.02 L265.42,249.06 L266.05,249.10 L266.68,249.15 L267.32,249.20 L267.95,249.25 L268.58,249.30 L269.21,249.36 L269.84,249.42 L270.48,249.48 L271.11,249.55 L271.74,249.62 L272.37,249.69 L273.00,249.76 L273.64,249.84 L274.27,249.92 L274.90,250.00 L275.53,250.08 L276.16,250.17 L276.79,250.25 L277.43,250.35 L278.06,250.44 L278.69,250.53 L279.32,250.63 L279.95,250.73 L280.59,250.83 L281.22,250.93 L281.85,251.04 L282.48,251.14 L283.11,251.25 L283.74,251.36 L284.38,251.47 L285.01,251.59 L285.64,251.70 L286.27,251.82 L286.90,251.94 L287.54,252.06 L288.17,252.18 L288.80,252.30 L289.43,252.43 L290.06,252.56 L290.70,252.68 L291.33,252.81 L291.96,252.94 L292.59,253.08 L293.22,253.21 L293.85,253.35 L294.49,253.48 L295.12,253.62 L295.75,253.76 L296.38,253.90 L297.01,254.04 L297.65,254.18 L298.28,254.32 L298.91,254.47 L299.54,254.61 L300.17,254.76 L300.80,254.91 L301.44,255.05 L302.07,255.20 L302.70,255.35 L303.33,255.50 L303.96,255.65 L304.60,255.81 L305.23,255.96 L305.86,256.11 L306.49,256.27 L307.12,256.42 L307.76,256.58 L308.39,256.74 L309.02,256.89 L309.65,257.05 L310.28,257.21 L310.91,257.37 L311.55,257.53 L312.18,257.69 L312.81,257.85 L313.44,258.01 L314.07,258.17 L314.71,258.33 L315.34,258.50 L315.97,258.66 L316.60,258.82 L317.23,258.99 L317.87,259.15 L318.50,259.31 L319.13,259.48 L319.76,259.64 L320.39,259.81 L321.02,259.97 L321.66,260.14 L322.29,260.31 L322.92,260.47 L323.55,260.64 L324.18,260.81 L324.82,260.97 L325.45,261.14 L326.08,261.31 L326.71,261.47 L327.34,261.64 L327.97,261.81 L328.61,261.98 L329.24,262.14 L329.87,262.31 L330.50,262.48 L331.13,262.65 L331.77,262.82 L332.40,262.98 L333.03,263.15 L333.66,263.32 L334.29,263.49 L334.93,263.65 L335.56,263.82 L336.19,263.99 L336.82,264.16 L337.45,264.33 L338.08,264.49 L338.72,264.66 L339.35,264.83 L339.98,264.99 L340.61,265.16 L341.24,265.33 L341.88,265.50 L342.51,265.66 L343.14,265.83 L343.77,265.99 L344.40,266.16 L345.03,266.33 L345.67,266.49 L346.30,266.66 L346.93,266.82 L347.56,266.99 L348.19,267.15 L348.83,267.32 L349.46,267.48 L350.09,267.65 L350.72,267.81 L351.35,267.97 L351.99,268.14 L352.62,268.30 L353.25,268.46 L353.88,268.63 L354.51,268.79 L355.14,268.95 L355.78,269.11 L356.41,269.27 L357.04,269.43 L357.67,269.60 L358.30,269.76 L358.94,269.92 L359.57,270.08 L360.20,270.24 L360.83,270.39 L361.46,270.55 L362.10,270.71 L362.73,270.87 L363.36,271.03 L363.99,271.18 L364.62,271.34 L365.25,271.50 L365.89,271.65 L366.52,271.81 L367.15,271.96 L367.78,272.12 L368.41,272.27 L369.05,272.43 L369.68,272.58 L370.31,272.74 L370.94,272.89 L371.57,273.04 L372.20,273.19 L372.84,273.35 L373.47,273.50 L374.10,273.65 L374.73,273.80 L375.36,273.95 L376.00,274.10 L376.63,274.25 L377.26,274.40 L377.89,274.55 L378.52,274.69 L379.16,274.84 L379.79,274.99 L380.42,275.13 L381.05,275.28 L381.68,275.43 L382.31,275.57 L382.95,275.72 L383.58,275.86 L384.21,276.01 L384.84,276.15 L385.47,276.29 L386.11,276.43 L386.74,276.58 L387.37,276.72 L388.00,276.86 L388.63,277.00 L389.26,277.14 L389.90,277.28 L390.53,277.42 L391.16,277.56 L391.79,277.70 L392.42,277.84 L393.06,277.97 L393.69,278.11 L394.32,278.25 L394.95,278.38 L395.58,278.52 L396.22,278.65 L396.85,278.79 L397.48,278.92 L398.11,279.06 L398.74,279.19 L399.37,279.32 L400.01,279.46 L400.64,279.59 L401.27,279.72 L401.90,279.85 L402.53,279.98 L403.17,280.11 L403.80,280.24 L404.43,280.37 L405.06,280.50 L405.69,280.63 L406.33,280.75 L406.96,280.88 L407.59,281.01 L408.22,281.14 L408.85,281.26 L409.48,281.39 L410.12,281.51 L410.75,281.64 L411.38,281.76 L412.01,281.88 L412.64,282.01 L413.28,282.13 L413.91,282.25 L414.54,282.37 L415.17,282.50 L415.80,282.62 L416.43,282.74 L417.07,282.86 L417.70,282.98 L418.33,283.09 L418.96,283.21 L419.59,283.33 L420.23,283.45 L420.86,283.57 L421.49,283.68 L422.12,283.80 L422.75,283.91 L423.39,284.03 L424.02,284.14 L424.65,284.26 L425.28,284.37 L425.91,284.49 L426.54,284.60 L427.18,284.71 L427.81,284.82 L428.44,284.94 L429.07,285.05 L429.70,285.16 L430.34,285.27 L430.97,285.38 L431.60,285.49 L432.23,285.60 L432.86,285.71 L433.49,285.81 L434.13,285.92 L434.76,286.03 L435.39,286.14 L436.02,286.24 L436.65,286.35 L437.29,286.45 L437.92,286.56 L438.55,286.66 L439.18,286.77 L439.81,286.87 L440.45,286.98 L441.08,287.08 L441.71,287.18 L442.34,287.28 L442.97,287.39 L443.60,287.49 L444.24,287.59 L444.87,287.69 L445.50,287.79 L446.13,287.89 L446.76,287.99 L447.40,288.09 L448.03,288.19 L448.66,288.28 L449.29,288.38 L449.92,288.48 L450.56,288.58 L451.19,288.67 L451.82,288.77 L452.45,288.86 L453.08,288.96 L453.71,289.05 L454.35,289.15 L454.98,289.24 L455.61,289.34 L456.24,289.43 L456.87,289.52 L457.51,289.61 L458.14,289.71 L458.77,289.80 L459.40,289.89 L460.03,289.98 L460.66,290.07 L461.30,290.16 L461.93,290.25 L462.56,290.34 L463.19,290.43 L463.82,290.52 L464.46,290.61 L465.09,290.70 L465.72,290.78 L466.35,290.87 L466.98,290.96 L467.62,291.04 L468.25,291.13 L468.88,291.22 L469.51,291.30 L470.14,291.39 L470.77,291.47 L471.41,291.55 L472.04,291.64 L472.67,291.72 L473.30,291.80 L473.93,291.89 L474.57,291.97 L475.20,292.05 L475.83,292.13 L476.46,292.22 L477.09,292.30 L477.72,292.38 L478.36,292.46 L478.99,292.54 L479.62,292.62 L480.25,292.70 L480.88,292.78 L481.52,292.85 L482.15,292.93 L482.78,293.01 L483.41,293.09 L484.04,293.17 L484.68,293.24 L485.31,293.32 L485.94,293.40 L486.57,293.47 L487.20,293.55 L487.83,293.62 L488.47,293.70 L489.10,293.77" stroke="#00b050"/>
</g>
<line x1="191.5" y1="61.8" x2="191.5" y2="313.1" stroke="#6a1696" stroke-width="2.1"/>
<line x1="202.7" y1="61.8" x2="202.7" y2="313.1" stroke="#00b050" stroke-width="2.4"/>
<g stroke="#404040" stroke-width="2" fill="none">
<line x1="69" y1="60.8" x2="516.9" y2="60.8"/>
<line x1="516.9" y1="60.8" x2="516.9" y2="313.1"/>
</g>
<g stroke="#111" stroke-width="1.8" fill="none">
<line x1="184.2" y1="52.6" x2="191.4" y2="59.6"/>
<line x1="208.6" y1="51.6" x2="202.8" y2="59.6"/>
</g>
<g fill="#000" stroke="#000" stroke-width="0.3">
<text x="16" y="27.1" font-size="24" textLength="524.45" lengthAdjust="spacingAndGlyphs">The MWIR is the crossroad between multiple emitters</text>
<g font-size="16"><text x="74.60" y="340.8" text-anchor="middle">0</text><text x="137.79" y="340.8" text-anchor="middle">2</text><text x="200.97" y="340.8" text-anchor="middle">4</text><text x="264.16" y="340.8" text-anchor="middle">6</text><text x="327.34" y="340.8" text-anchor="middle">8</text><text x="390.53" y="340.8" text-anchor="middle">10</text><text x="453.71" y="340.8" text-anchor="middle">12</text><text x="516.90" y="340.8" text-anchor="middle">14</text></g>
<text x="212.5" y="371.4" font-size="24" textLength="168.5" lengthAdjust="spacingAndGlyphs">Wavelength (um)</text>
<text x="0" y="0" font-size="20" textLength="230.5" lengthAdjust="spacingAndGlyphs" transform="translate(49.3,302.1) rotate(-90)">Radiance (watts/m2/sr/um)</text>
<text x="96.1" y="96.4" font-size="18" textLength="36.8" lengthAdjust="spacingAndGlyphs">Solar</text>
<text x="95.8" y="117.9" font-size="18" textLength="50.7" lengthAdjust="spacingAndGlyphs">5000 K</text>
<text x="264" y="102.3" font-size="18" textLength="134.2" lengthAdjust="spacingAndGlyphs">Background 300 K</text>
<text x="85.8" y="244.0" font-size="18" textLength="57.47" lengthAdjust="spacingAndGlyphs">Flaming</text>
<text x="85.8" y="265.4" font-size="18" textLength="50.7" lengthAdjust="spacingAndGlyphs">1200 K</text>
<text x="306.6" y="249.1" font-size="18" textLength="109.5" lengthAdjust="spacingAndGlyphs">Pyrolysis 500 K</text>
<text x="156.5" y="50.3" font-size="18" textLength="33.64" lengthAdjust="spacingAndGlyphs">M12</text>
<text x="202.5" y="50.3" font-size="18" textLength="33.64" lengthAdjust="spacingAndGlyphs">M13</text>
</g>
</svg>
</body></html>
